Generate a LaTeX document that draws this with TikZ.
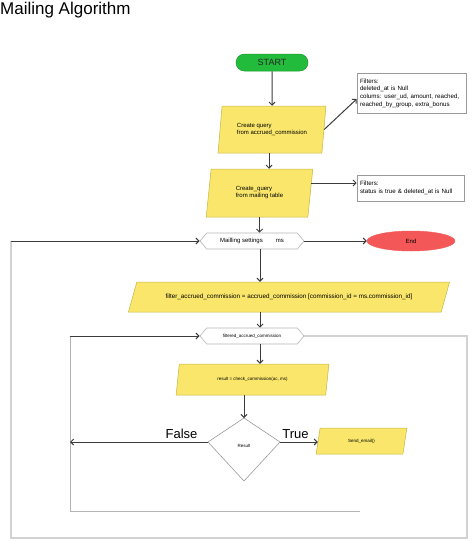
\documentclass[tikz,border=0pt]{standalone}
\usepackage{fontspec}
\setmainfont{Liberation Sans}
\usetikzlibrary{arrows.meta,shapes.geometric,shapes.symbols}
\definecolor{ylw}{HTML}{F9E66B}
\definecolor{ylwb}{HTML}{C8B446}
\definecolor{grn}{HTML}{22BB3C}
\definecolor{grnb}{HTML}{179A2C}
\definecolor{rd}{HTML}{F45757}
\definecolor{dk}{HTML}{3C3C3C}
\definecolor{lg}{HTML}{B4B4B4}
\definecolor{llg}{HTML}{D2D2D2}
\definecolor{bx}{HTML}{9A9A9A}
\begin{document}
\begin{tikzpicture}[x=1pt,y=-1pt,
  arr/.style={draw=dk, line width=1pt, -{Straight Barb[length=3pt,width=6pt]}},
  loopln/.style={draw=lg, line width=0.9pt},
  outerln/.style={draw=llg, line width=1.1pt},
  para/.style={trapezium, trapezium stretches=true, draw=ylwb, fill=ylw, line width=0.5pt, inner sep=0pt},
  hexa/.style={signal, signal to=east and west, signal pointer angle=100, draw=lg, fill=white, line width=0.6pt, minimum width=104pt, minimum height=16pt, inner sep=0pt, font=\fontsize{6}{7}\selectfont},
  fbox/.style={rectangle, draw=bx, line width=0.6pt, fill=white, align=left, font=\fontsize{6.2}{7.6}\selectfont, inner ysep=0pt, inner xsep=3pt},
  tinyf/.style={font=\fontsize{4.5}{5}\selectfont},
  smallf/.style={font=\fontsize{6}{7}\selectfont},
  startbox/.style={rectangle, rounded corners=8.5pt, minimum width=72pt, minimum height=17pt, fill=grn, draw=grnb, line width=0.5pt, font=\fontsize{9}{10}\selectfont, text=black!85},
  endbox/.style={ellipse, fill=rd, draw=rd, minimum width=88pt, minimum height=20pt, inner sep=0pt, font=\fontsize{6}{7}\selectfont},
  lbl/.style={anchor=base, inner sep=0pt, font=\fontsize{13}{13}\selectfont},
]
\useasboundingbox (0,0) rectangle (474,542);

\node[anchor=base west, inner sep=0pt, font=\fontsize{17}{17}\selectfont] (title) at (0,14) {Mailing Algorithm};

\node[startbox] (start) at (272,62.5) {START};

\node[para, trapezium left angle=77, trapezium right angle=103, minimum width=108pt, minimum height=47pt, align=left, smallf] (p1) at (272,129.5) {Create query\\from accrued\_commission};

\node[fbox, minimum width=109pt, minimum height=40pt, text width=103pt] (f1) at (411.5,93) {Filters:\\deleted\_at is Null\\colums: user\_ud, amount, reached,\\reached\_by\_group, extra\_bonus};

\node[para, trapezium left angle=79, trapezium right angle=101, minimum width=107pt, minimum height=48pt, align=left, smallf] (p2) at (259.5,193) {Create\_query\\from mailing table};

\node[fbox, minimum width=107pt, minimum height=26pt, text width=101pt] (f2) at (410.5,188) {Filters:\\status is true \& deleted\_at is Null};

\node[hexa] (ms) at (252,241) {Mailling settings\hspace{13pt}ms};
\node[endbox] (end) at (411,241) {End};

\node[para, trapezium left angle=41, trapezium right angle=139, minimum width=322pt, minimum height=30pt, font=\fontsize{6.3}{7}\selectfont] (p3) at (289,297) {filter\_accrued\_commission = accrued\_commission [commission\_id = ms.commission\_id]};

\node[hexa, tinyf] (fac) at (252,336) {filtered\_accrued\_commission};

\node[para, trapezium left angle=70, trapezium right angle=110, minimum width=153pt, minimum height=31pt, tinyf] (p4) at (252.5,379.5) {result = check\_commission(ac, ms)};

\coordinate (dT) at (244,418);
\coordinate (dL) at (208,442);
\coordinate (dR) at (280,442);
\coordinate (dB) at (244,481);
\draw[draw=bx, fill=white, line width=0.6pt] (dT) -- (dR) -- (dB) -- (dL) -- cycle;
\node[tinyf] (dia) at (244,446) {Result};

\node[para, trapezium left angle=73, trapezium right angle=107, minimum width=91pt, minimum height=26pt, tinyf] (send) at (361.5,441) {Send\_email()};

\node[lbl] (lf) at (181.5,438) {False};
\node[lbl] (lt) at (295.5,438) {True};

% connectors
\coordinate (col) at (260,0);
\coordinate (f2in) at ([yshift=5pt]f2.west);
\coordinate (f1in) at ([yshift=-6pt]f1.west);
\draw[arr] (start.south) -- (p1.north);
\draw[arr] ([xshift=-3pt]p1.south) -- ([xshift=-3pt]p1.south |- p2.north);
\draw[arr] (p1.east) -- (f1in);
\draw[arr] (f2in -| p2.east) -- (f2in);
\draw[arr] (p2.south) -- (p2.south |- ms.north);
\draw[arr] (ms.east) -- (end.west);
\draw[arr] (col |- ms.south) -- (col |- p3.north);
\draw[arr] (col |- p3.south) -- (col |- fac.north);
\draw[arr] (col |- fac.south) -- (col |- p4.north);
\draw[arr] (dT |- p4.south) -- (dT);

% inner loop
\coordinate (inL) at (70,336);
\coordinate (inB) at (70,511);
\coordinate (inE) at (360,511);
\draw[loopln] (inL) -- (inB) -- (inE);
\draw[arr] (inL) -- (fac.west);
\draw[arr] (dL) -- (dL -| inL);
\draw[arr] (dR) -- (dR -| send.west);

% outer loop
\coordinate (oR) at (467,336);
\coordinate (oRB) at (467,538);
\coordinate (oLB) at (11,538);
\coordinate (oL) at (11,241);
\draw[outerln] (fac.east) -- (oR) -- (oRB) -- (oLB) -- (oL);
\draw[arr] (oL) -- (ms.west);
\end{tikzpicture}
\end{document}
